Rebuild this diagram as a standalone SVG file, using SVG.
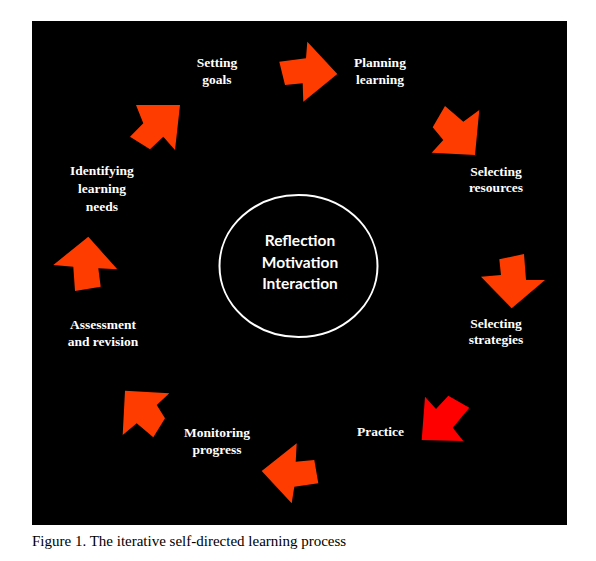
<svg xmlns="http://www.w3.org/2000/svg" width="596" height="561" viewBox="0 0 596 561">
<style>
.lbl{font-family:"Liberation Serif","Times New Roman",serif;font-weight:bold;font-size:13.5px;fill:#ffffff;text-anchor:middle}
.ctr{font-family:Lato,"Liberation Sans",sans-serif;font-weight:bold;font-size:15.5px;fill:#ffffff;text-anchor:middle}
.arr{fill:#FF3C00}
.cap{font-family:"Liberation Serif","Times New Roman",serif;font-size:15px;fill:#000000}
</style>
<rect width="596" height="561" fill="#ffffff"/>
<rect x="32" y="21" width="535" height="504" fill="#000000"/>
<g id="center">
<ellipse cx="298.5" cy="266" rx="79" ry="71" fill="none" stroke="#ffffff" stroke-width="2"/>
<text class="ctr" x="300" y="246">Reflection</text>
<text class="ctr" x="300" y="268">Motivation</text>
<text class="ctr" x="300" y="289">Interaction</text>
</g>
<g id="setting-goals"><text class="lbl" x="217" y="67">Setting</text><text class="lbl" x="217" y="84">goals</text></g>
<g id="planning-learning"><text class="lbl" x="380" y="67">Planning</text><text class="lbl" x="380" y="84">learning</text></g>
<g id="selecting-resources"><text class="lbl" x="496" y="176">Selecting</text><text class="lbl" x="496" y="192">resources</text></g>
<g id="selecting-strategies"><text class="lbl" x="496" y="328">Selecting</text><text class="lbl" x="496" y="344">strategies</text></g>
<g id="practice"><text class="lbl" x="380.5" y="436">Practice</text></g>
<g id="monitoring-progress"><text class="lbl" x="217" y="437">Monitoring</text><text class="lbl" x="217" y="454">progress</text></g>
<g id="assessment-revision"><text class="lbl" x="103" y="329">Assessment</text><text class="lbl" x="103" y="346">and revision</text></g>
<g id="identifying-needs"><text class="lbl" x="102" y="175">Identifying</text><text class="lbl" x="102" y="193">learning</text><text class="lbl" x="102" y="211">needs</text></g>
<g id="connectors">
<polygon class="arr" points="279.3,61.7 306,58.3 307.3,41.7 337.3,74 303.3,101.7 302.7,83.3 285,85"/>
<polygon class="arr" points="445,106 463.3,121.7 479.3,110 475,155 431.7,152.7 443.3,140 432.7,127.3"/>
<polygon class="arr" points="499.3,259.3 524,254 526,280 545,280 511.7,308.3 481,276.7 501,275"/>
<polygon fill="#FF0000" points="425,396.7 436,409 448.3,395.7 469.3,407.7 452.7,427.7 463.3,441 421.7,440"/>
<polygon class="arr" points="261.7,471 296.7,443.3 295.7,461.7 314.3,460 318.3,483.3 294.3,486.7 291.7,503.3"/>
<polygon class="arr" points="125,390.7 169.3,393.3 156.7,405 165,418.3 153.3,437.3 136.7,423.3 122.7,435"/>
<polygon class="arr" points="88.3,236.7 117.3,269.3 98.3,268.3 100.7,286.7 75,291 73.3,266.7 53.3,265"/>
<polygon class="arr" points="136,105 180,105 175,150 163.3,136.7 150,149.3 130,136.7 143.3,123.3"/>
</g>
<text class="cap" x="32" y="546">Figure 1. The iterative self-directed learning process</text>
</svg>
